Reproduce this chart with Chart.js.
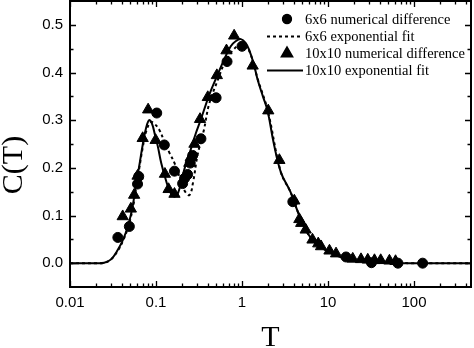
<!DOCTYPE html>
<html>
<head>
<meta charset="utf-8">
<script src="https://cdn.jsdelivr.net/npm/chart.js@4"></script>
<style>
  body { margin: 0; background: #ffffff; }
  canvas { display: block; }
</style>
</head>
<body>
<canvas id="myChartCT" width="474" height="348"></canvas>
<script>

// 6x6 lattice, numerical difference [T, C]
var circles6 = [
    [0.036, 0.054], [0.049, 0.077], [0.061, 0.166], [0.063, 0.182],
    [0.102, 0.315], [0.125, 0.248], [0.164, 0.193], [0.204, 0.167],
    [0.215, 0.178], [0.233, 0.186], [0.25, 0.21], [0.267, 0.226],
    [0.333, 0.261], [0.50, 0.347], [0.67, 0.423], [1.0, 0.455],
    [3.9, 0.129], [16.2, 0.013], [32, 0.001], [65, 0.0], [126, 0.0]
];

// 6x6 exponential fit
var fit6 = [
    [0.01, 0], [0.02, 0], [0.025, 0.001], [0.03, 0.008], [0.036, 0.026],
    [0.042, 0.05], [0.047, 0.074], [0.053, 0.11], [0.058, 0.152], [0.064, 0.2],
    [0.07, 0.242], [0.077, 0.277], [0.087, 0.296], [0.095, 0.293], [0.109, 0.28],
    [0.125, 0.255], [0.143, 0.232], [0.166, 0.208], [0.19, 0.178], [0.215, 0.152],
    [0.245, 0.143], [0.27, 0.17], [0.305, 0.228], [0.36, 0.279], [0.415, 0.334],
    [0.52, 0.383], [0.62, 0.418], [0.78, 0.446], [0.95, 0.458], [1.1, 0.455],
    [1.25, 0.44], [1.53, 0.385], [1.98, 0.322], [2.84, 0.19], [3.65, 0.15],
    [4.45, 0.108], [5.0, 0.085], [6.3, 0.053], [8, 0.036], [9.9, 0.025],
    [13, 0.015], [16.7, 0.009], [25, 0.004], [45, 0.001], [100, 0], [460, 0]
];

// 10x10 lattice, numerical difference
var triangles10 = [
    [0.041, 0.098], [0.051, 0.114], [0.0557, 0.143], [0.061, 0.183], [0.07, 0.262],
    [0.081, 0.322], [0.099, 0.258], [0.127, 0.187], [0.14, 0.155], [0.164, 0.145],
    [0.244, 0.21], [0.254, 0.222], [0.28, 0.25], [0.325, 0.302], [0.40, 0.348],
    [0.51, 0.394], [0.66, 0.446], [0.81, 0.477], [1.33, 0.414], [2.02, 0.32],
    [2.72, 0.216], [4.06, 0.131], [4.64, 0.092], [4.88, 0.084], [5.5, 0.07],
    [6.6, 0.049], [7.7, 0.041], [8.3, 0.035], [10.4, 0.026], [12.4, 0.02],
    [19.4, 0.009], [24.2, 0.008], [29, 0.007], [34.7, 0.006], [41, 0.006],
    [51.8, 0.005], [61, 0.004]
];

// 10x10 exponential fit
var fit10 = [
    [0.01, 0], [0.02, 0], [0.025, 0.001], [0.03, 0.008], [0.036, 0.028],
    [0.042, 0.052], [0.047, 0.077], [0.053, 0.115], [0.058, 0.16], [0.064, 0.205],
    [0.07, 0.248], [0.077, 0.285], [0.0835, 0.3], [0.09, 0.292], [0.097, 0.27],
    [0.105, 0.245], [0.115, 0.21], [0.13, 0.175], [0.145, 0.15], [0.16, 0.14],
    [0.175, 0.143], [0.19, 0.16], [0.212, 0.195], [0.25, 0.235], [0.29, 0.272],
    [0.333, 0.302], [0.42, 0.355], [0.52, 0.395], [0.63, 0.43], [0.74, 0.455],
    [0.85, 0.466], [0.97, 0.47], [1.1, 0.462], [1.22, 0.446], [1.37, 0.418],
    [1.53, 0.383], [1.75, 0.35], [1.98, 0.32], [2.35, 0.25], [2.84, 0.19],
    [3.65, 0.15], [4.45, 0.108], [5.0, 0.085], [6.3, 0.053], [8, 0.036],
    [9.9, 0.025], [13, 0.015], [16.7, 0.009], [25, 0.004], [45, 0.001],
    [100, 0], [460, 0]
];

var xTickValues = [0.01, 0.1, 1, 10, 100];
var xTickLabels = ['0.01', '0.1', '1', '10', '100'];
var yTickValues = [0, 0.1, 0.2, 0.3, 0.4, 0.5];
var yTickLabels = ['0.0', '0.1', '0.2', '0.3', '0.4', '0.5'];
var yMinorValues = [0.05, 0.15, 0.25, 0.35, 0.45];

function pts(arr) {
    return arr.map(function (p) { return { x: p[0], y: p[1] }; });
}

// frame, inward ticks on all four sides, axis titles and the legend
const molduraPlugin = {
    id: 'moldura',
    afterDraw: function (chart) {
        const ctx = chart.ctx;
        const area = chart.chartArea;
        const sx = chart.scales.x;
        const sy = chart.scales.y;

        ctx.save();
        ctx.strokeStyle = '#000';
        ctx.lineWidth = 2;
        ctx.strokeRect(area.left, area.top, area.right - area.left, area.bottom - area.top);

        ctx.lineWidth = 1.3;
        function tickX(v, len) {
            const px = Math.round(sx.getPixelForValue(v)) + 0.5;
            ctx.beginPath();
            ctx.moveTo(px, area.bottom); ctx.lineTo(px, area.bottom - len);
            ctx.moveTo(px, area.top); ctx.lineTo(px, area.top + len);
            ctx.stroke();
        }
        function tickY(v, len) {
            const py = Math.round(sy.getPixelForValue(v)) + 0.5;
            ctx.beginPath();
            ctx.moveTo(area.left, py); ctx.lineTo(area.left + len, py);
            ctx.moveTo(area.right, py); ctx.lineTo(area.right - len, py);
            ctx.stroke();
        }
        xTickValues.forEach(function (d) {
            tickX(d, 6);
            for (let k = 2; k <= 9; k++) {
                if (d * k < sx.max) tickX(d * k, 3.5);
            }
        });
        yTickValues.forEach(function (v) { tickY(v, 6); });
        yMinorValues.forEach(function (v) { tickY(v, 3.5); });

        // axis titles
        ctx.fillStyle = '#000';
        ctx.font = '30px "Liberation Serif"';
        ctx.textAlign = 'center';
        ctx.textBaseline = 'alphabetic';
        ctx.fillText('T', (area.left + area.right) / 2, 346);

        ctx.save();
        ctx.translate(22, 165);
        ctx.rotate(-Math.PI / 2);
        ctx.fillText('C(T)', 0, 0);
        ctx.restore();

        // legend
        const linhas = [19, 36.5, 53.5, 70.5];
        const xSimb = 287;
        ctx.font = '14.5px "Liberation Serif"';
        ctx.textAlign = 'left';
        ctx.textBaseline = 'middle';
        chart.data.datasets.forEach(function (ds, i) {
            const y = linhas[i];
            ctx.fillStyle = '#000';
            ctx.strokeStyle = '#000';
            if (ds.showLine === false) {
                Chart.helpers.drawPoint(ctx, {
                    pointStyle: ds.pointStyle,
                    radius: ds.pointRadius - 0.5,
                    borderWidth: 1
                }, xSimb, y);
                ctx.fill();
            } else {
                ctx.lineWidth = ds.borderWidth;
                ctx.setLineDash(ds.borderDash || []);
                ctx.beginPath();
                ctx.moveTo(267, y); ctx.lineTo(303, y);
                ctx.stroke();
                ctx.setLineDash([]);
            }
            ctx.fillText(ds.label, 305, y + 1);
        });
        ctx.restore();
    }
};

const ctxCT = document.getElementById('myChartCT');

var myChartCT = new Chart(ctxCT, {
    type: 'scatter',
    data: {
        datasets: [{
            label: '6x6 numerical difference',
            data: pts(circles6),
            showLine: false,
            pointStyle: 'circle',
            pointRadius: 5,
            backgroundColor: '#000',
            borderColor: '#000',
            borderWidth: 1,
            order: 1
        }, {
            label: '6x6 exponential fit',
            data: pts(fit6),
            showLine: true,
            pointRadius: 0,
            borderColor: '#000',
            borderWidth: 2,
            borderDash: [3, 3],
            tension: 0.4,
            order: 3
        }, {
            label: '10x10 numerical difference',
            data: pts(triangles10),
            showLine: false,
            pointStyle: 'triangle',
            pointRadius: 6.5,
            backgroundColor: '#000',
            borderColor: '#000',
            borderWidth: 1,
            order: 0
        }, {
            label: '10x10 exponential fit',
            data: pts(fit10),
            showLine: true,
            pointRadius: 0,
            borderColor: '#000',
            borderWidth: 2,
            tension: 0.4,
            order: 2
        }]
    },
    options: {
        responsive: false,
        animation: false,
        devicePixelRatio: 1,
        layout: {
            autoPadding: false,
            padding: { top: 1, right: 3, left: 0, bottom: 0 }
        },
        scales: {
            x: {
                type: 'logarithmic',
                min: 0.01,
                max: 460,
                afterBuildTicks: function (scale) {
                    scale.ticks = xTickValues.map(function (v) { return { value: v }; });
                },
                afterFit: function (scale) {
                    scale.height = 61;
                    scale.paddingLeft = 0;
                    scale.paddingRight = 0;
                },
                ticks: {
                    callback: function (value) {
                        const i = xTickValues.indexOf(value);
                        return i >= 0 ? xTickLabels[i] : '';
                    },
                    maxRotation: 0,
                    autoSkip: false,
                    padding: 7,
                    color: '#000',
                    font: { family: 'Liberation Sans', size: 15 }
                },
                grid: { display: false, drawTicks: false },
                border: { display: false }
            },
            y: {
                min: -0.05,
                max: 0.55,
                afterBuildTicks: function (scale) {
                    scale.ticks = yTickValues.map(function (v) { return { value: v }; });
                },
                afterFit: function (scale) {
                    scale.width = 70;
                    scale.paddingTop = 0;
                    scale.paddingBottom = 0;
                },
                ticks: {
                    callback: function (value) {
                        const i = yTickValues.indexOf(value);
                        return i >= 0 ? yTickLabels[i] : '';
                    },
                    padding: 7,
                    color: '#000',
                    font: { family: 'Liberation Sans', size: 15 }
                },
                grid: { display: false, drawTicks: false },
                border: { display: false }
            }
        },
        plugins: {
            legend: { display: false },
            tooltip: { enabled: false }
        }
    },
    plugins: [molduraPlugin]
});

</script>
</body>
</html>
